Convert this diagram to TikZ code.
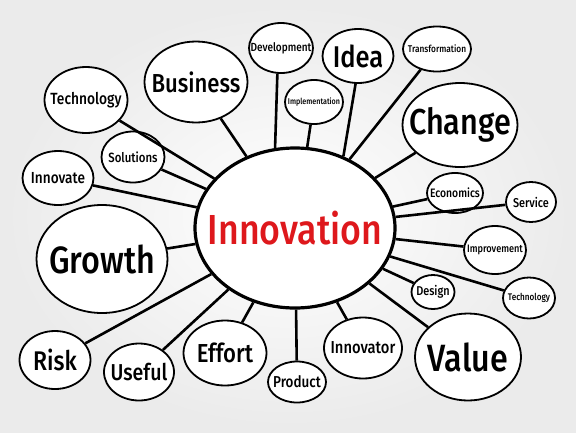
\documentclass[tikz,border=0pt]{standalone}
\usepackage{fontspec}
\setmainfont{Fira Sans}[FakeStretch=0.85, UprightFont=* Medium]
\usetikzlibrary{shapes}

\definecolor{hubred}{RGB}{222,24,28}
\tikzset{
  bubble/.style={draw, ellipse, line width=1.8pt, fill=white, inner sep=0pt},
  hub/.style={draw, ellipse, line width=3.2pt, fill=white, inner sep=0pt},
  spoke/.style={line width=2.6pt}
}
\newcommand{\fsz}[1]{\fontsize{#1}{#1}\selectfont}

\begin{document}
\begin{tikzpicture}[x=1pt, y=-1pt]
\useasboundingbox (0,0) rectangle (576,432);
\shade[inner color=white, outer color=black!8] (0,0) rectangle (576,432);

\node[hub, minimum width=200, minimum height=160, label={[font=\fsz{42}, text=hubred]center:Innovation}] (innovation) at (295,228) {};

\node[bubble, minimum width=83, minimum height=66, label={[font=\fsz{16.2}]center:Technology}] (techl) at (86,100) {};
\node[bubble, minimum width=103, minimum height=81, label={[font=\fsz{26}]center:Business}] (business) at (196,82) {};
\node[bubble, minimum width=64, minimum height=50, label={[font=\fsz{11.8}]center:Development}] (development) at (281,48) {};
\node[bubble, minimum width=71, minimum height=54, label={[font=\fsz{30}]center:Idea}] (idea) at (358,56) {};
\node[bubble, minimum width=68, minimum height=45, label={[font=\fsz{9.8}]center:Transformation}] (transformation) at (437,49) {};
\node[bubble, minimum width=58, minimum height=44, label={[font=\fsz{8.4}]center:Implementation}] (implementation) at (314,102) {};
\node[bubble, minimum width=115, minimum height=84, label={[font=\fsz{36}]center:Change}] (change) at (460,125) {};
\node[bubble, minimum width=56, minimum height=40, label={[font=\fsz{12.2}]center:Economics}] (economics) at (455,193) {};
\node[bubble, minimum width=50, minimum height=40, label={[font=\fsz{12.8}]center:Service}] (service) at (531,202) {};
\node[bubble, minimum width=62, minimum height=48, label={[font=\fsz{10.8}]center:Improvement}] (improvement) at (495,250) {};
\node[bubble, minimum width=52, minimum height=41, label={[font=\fsz{9.6}]center:Technology}] (techr) at (529,298) {};
\node[bubble, minimum width=43, minimum height=34, label={[font=\fsz{12.8}]center:Design}] (design) at (433,292) {};
\node[bubble, minimum width=106, minimum height=87, label={[font=\fsz{38}]center:Value}] (value) at (468,357) {};
\node[bubble, minimum width=78, minimum height=61, label={[font=\fsz{17.3}]center:Innovator}] (innovator) at (363,348) {};
\node[bubble, minimum width=58, minimum height=41, label={[font=\fsz{15.8}]center:Product}] (product) at (297,382) {};
\node[bubble, minimum width=83, minimum height=65, label={[font=\fsz{26}]center:Effort}] (effort) at (225,353) {};
\node[bubble, minimum width=70, minimum height=57, label={[font=\fsz{23}]center:Useful}] (useful) at (139,372) {};
\node[bubble, minimum width=71, minimum height=58, label={[font=\fsz{27}]center:Risk}] (risk) at (55,360) {};
\node[bubble, minimum width=131, minimum height=108, label={[font=\fsz{38}]center:Growth}] (growth) at (102,259) {};
\node[bubble, minimum width=71, minimum height=54, label={[font=\fsz{16}]center:Innovate}] (innovate) at (58,178) {};
\node[bubble, minimum width=63, minimum height=51, label={[font=\fsz{13.4}]center:Solutions}] (solutions) at (133,157) {};

\foreach \n in {techl,business,transformation,implementation,change,economics,service,improvement,techr,design,value,innovator,product,effort,useful,risk,growth,innovate,solutions}
  \draw[spoke] (innovation) -- (\n);
\draw[spoke] (development.262) -- (innovation.104);
\draw[spoke] (idea.265) -- (innovation.56);

\end{tikzpicture}
\end{document}
